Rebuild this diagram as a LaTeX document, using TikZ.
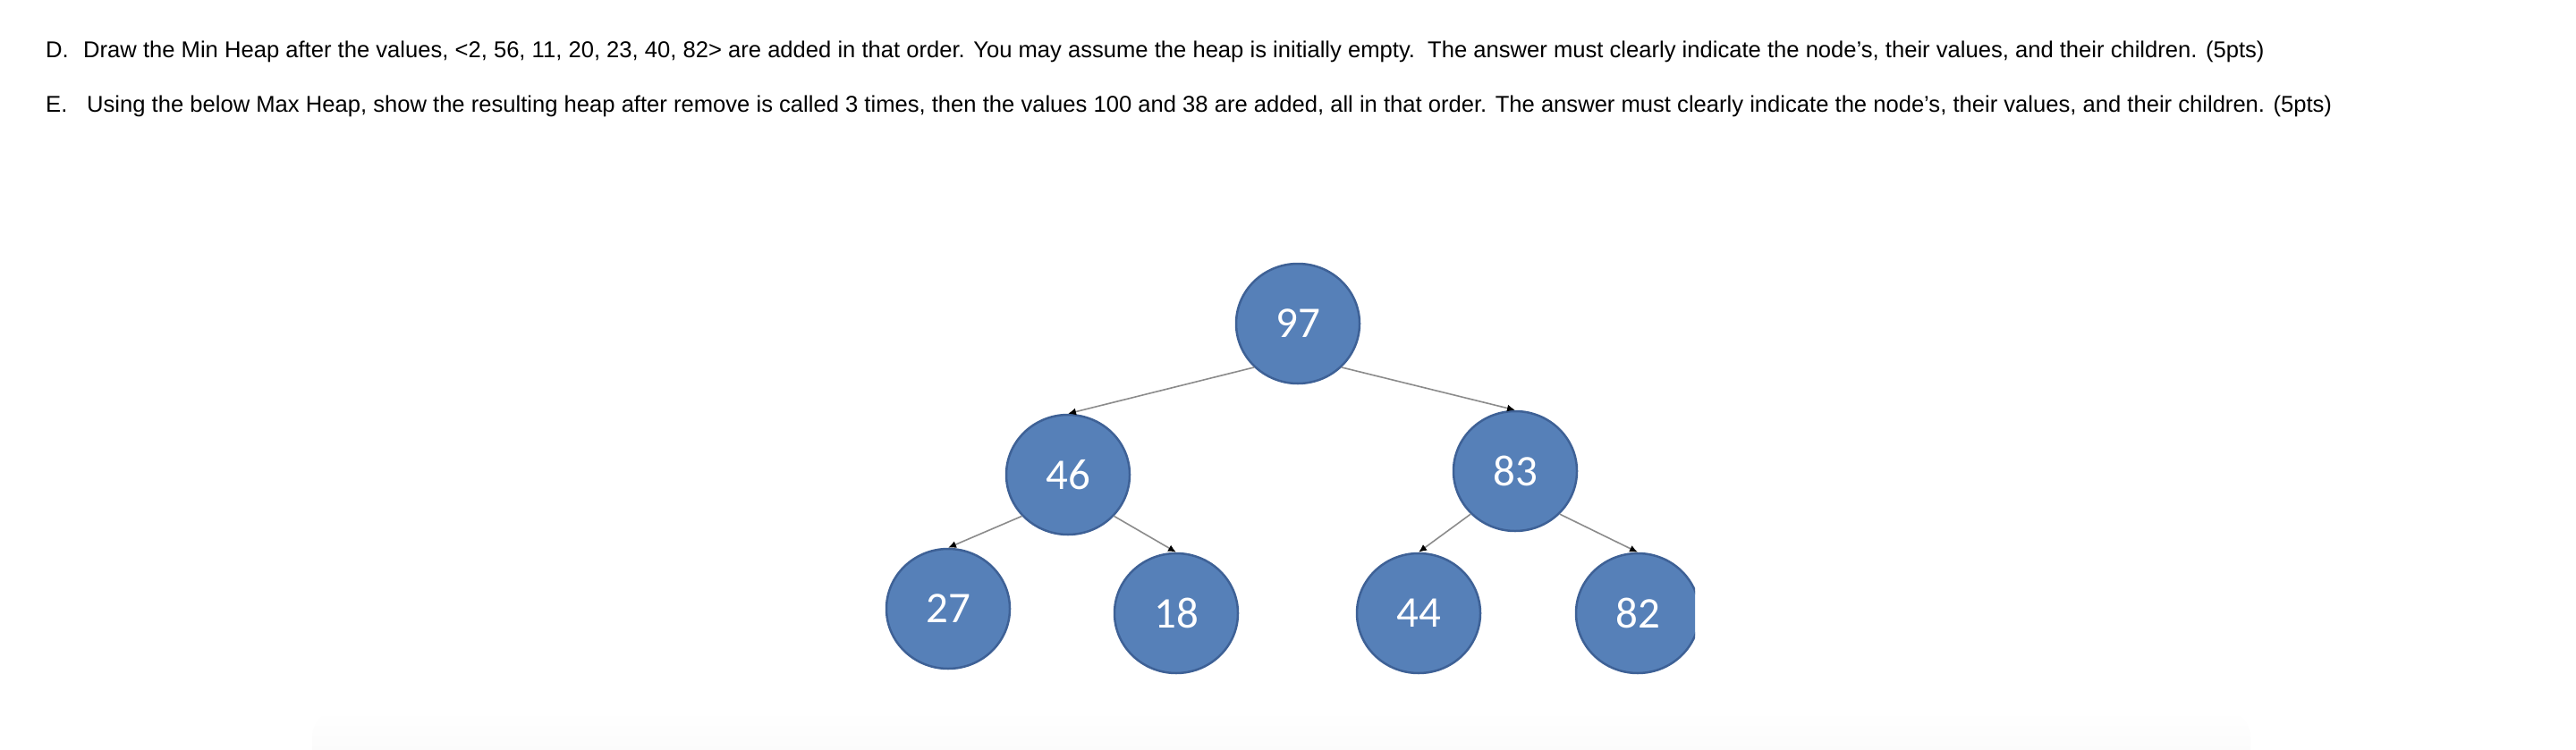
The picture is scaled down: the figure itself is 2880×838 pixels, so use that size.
\documentclass[tikz,border=0pt]{standalone}
\usepackage{fontspec}
\setmainfont{Liberation Sans}
\newfontfamily\calib{Carlito}
\usetikzlibrary{shapes.geometric,arrows.meta}
\definecolor{nodefill}{HTML}{5680B8}
\definecolor{nodeline}{HTML}{3E6196}
\definecolor{edgegray}{HTML}{8C8C8C}
\begin{document}
\begin{tikzpicture}[x=1pt,y=-1pt,
  heapnode/.style={ellipse, draw=nodeline, line width=2.5pt, fill=nodefill,
    minimum width=138pt, minimum height=134pt, inner sep=0pt, text=white,
    font=\calib\fontsize{49}{49}\selectfont},
  edge/.style={draw=edgegray, line width=1.6pt, -{Latex[length=9pt,width=8pt,color=black]}},
  qtext/.style={anchor=base west, inner sep=0pt, font=\fontsize{25.6}{30}\selectfont}]
\useasboundingbox (0,0) rectangle (2880,838);
\fill[white] (0,0) rectangle (2880,838);
\shade[top color=white, bottom color=black!3, rounded corners=30pt] (349,795) rectangle (2516,880);
% question texts
\node[qtext] (dlab) at (51,64) {D.};
\node[qtext] (dtxt) at (93,64) {Draw the Min Heap after the values, <2, 56, 11, 20, 23, 40, 82> are added in that order. You may assume the heap is initially empty.\ \ The answer must clearly indicate the node’s, their values, and their children. (5pts)};
\node[qtext] (elab) at (51,125) {E.};
\node[qtext] (etxt) at (97,125) {Using the below Max Heap, show the resulting heap after remove is called 3 times, then the values 100 and 38 are added, all in that order. The answer must clearly indicate the node’s, their values, and their children. (5pts)};
% heap
\begin{scope}
\clip (0,0) rectangle (1895,838);
\node[heapnode] (n97) at (1451,362) {97};
\node[heapnode] (n46) at (1194,531) {46};
\node[heapnode] (n83) at (1694,527) {83};
\node[heapnode] (n27) at (1060,681) {27};
\node[heapnode] (n18) at (1315,686) {18};
\node[heapnode] (n44) at (1586,686) {44};
\node[heapnode] (n82) at (1831,686) {82};
\draw[edge] (n97.-135) -- (n46.north);
\draw[edge] (n97.-45) -- (n83.north);
\draw[edge] (n46.-138) -- (n27.north);
\draw[edge] (n46.-42) -- (n18.north);
\draw[edge] (n83.-136) -- (n44.north);
\draw[edge] (n83.-44) -- (n82.north);
\end{scope}
\end{tikzpicture}
\end{document}
